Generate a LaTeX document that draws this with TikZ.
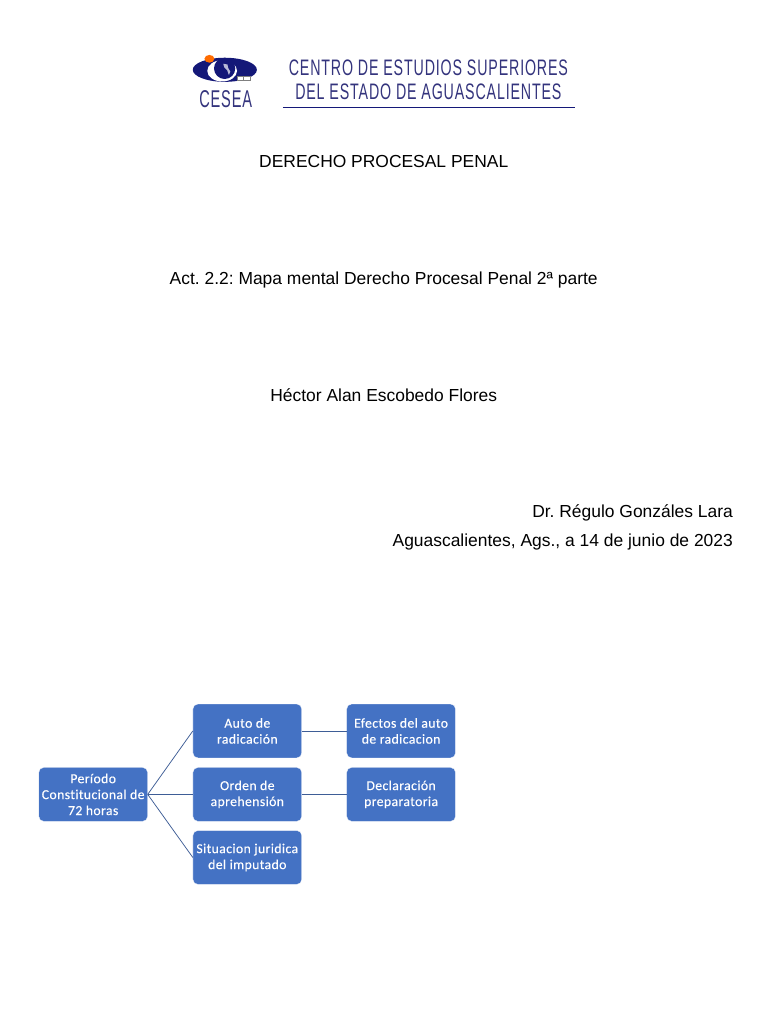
\documentclass[tikz,border=0pt]{standalone}
\usepackage{fontspec}
\setmainfont{Liberation Sans}
\newfontfamily\boxfont[LetterSpace=3,Ligatures=NoCommon,FakeBold=0.25]{Carlito}
\newfontfamily\logofont[LetterSpace=6]{Liberation Sans}
\usetikzlibrary{positioning}
\definecolor{boxblue}{RGB}{68,114,196}
\definecolor{linkblue}{RGB}{62,93,150}
\definecolor{logonavy}{RGB}{20,24,120}
\definecolor{logotext}{RGB}{52,52,125}
\tikzset{
  mapbox/.style={rectangle,rounded corners=0.14cm,fill=boxblue,draw=white,very thin,text=white,minimum width=3.07cm,minimum height=1.52cm,align=center,inner sep=0pt,font=\boxfont\fontsize{11}{12.8}\selectfont},
  maplink/.style={linkblue,line width=0.6pt},
  pagetext/.style={font=\frenchspacing\fontsize{14}{17}\selectfont,text=black,inner sep=0pt},
  logotitle/.style={font=\logofont\fontsize{18}{20}\selectfont,text=logotext,xscale=0.635,inner sep=0pt}
}

\begin{document}
\begin{tikzpicture}
\draw[draw=none,fill=white] (0,0) rectangle (21.67,28.9);
\useasboundingbox (0,0) rectangle (21.67,28.9);

% logo
\draw[draw=none,fill=logonavy] (6.345,26.93) ellipse (0.905 and 0.34);
\draw[draw=none,fill=white] (6.27,26.9) ellipse (0.42 and 0.3);
\draw[draw=none,fill=logonavy] (6.34,26.97) circle (0.3);
\draw[draw=none,fill=white!70!logonavy] (6.3,27.1) -- (6.42,27.08) -- (6.44,26.98) -- (6.5,26.88) -- (6.46,26.78) -- (6.41,26.92) -- (6.33,27) -- cycle;
\draw[draw=none,fill=orange!85!red] (5.91,27.24) ellipse (0.14 and 0.11);
\draw[gray,very thin,fill=white] (6.68,26.64) rectangle (6.87,26.76);
\draw[gray,very thin,fill=white] (6.87,26.64) rectangle (7.06,26.76);
\node[font=\logofont\fontsize{19.5}{21}\selectfont,text=logotext,xscale=0.6,inner sep=0pt] (cesea) at (6.37,26.09) {CESEA};
\node[logotitle] (titletop) at (12.09,26.98) {CENTRO DE ESTUDIOS SUPERIORES};
\node[logotitle] (titlebottom) at (12.09,26.3) {DEL ESTADO DE AGUASCALIENTES};
\draw[logonavy,line width=0.8pt] (7.98,25.87) -- (16.22,25.87);

% page text
\node[pagetext] (subject) at (10.83,24.34) {DERECHO PROCESAL PENAL};
\node[pagetext] (activity) at (10.83,21.01) {Act. 2.2: Mapa mental Derecho Procesal Penal 2ª parte};
\node[pagetext] (student) at (10.83,17.74) {Héctor Alan Escobedo Flores};
\node[pagetext,anchor=east] (teacher) at (20.69,14.42) {Dr. Régulo Gonzáles Lara};
\node[pagetext,anchor=east] (place) at (20.69,13.6) {Aguascalientes, Ags., a 14 de junio de 2023};

% mind map
\node[mapbox] (periodo) at (2.63,6.48) {Período\\Constitucional de\\72 horas};
\node[mapbox] (auto) at (6.98,8.27) {Auto de\\radicación};
\node[mapbox] (orden) at (6.98,6.48) {Orden de\\aprehensión};
\node[mapbox] (situacion) at (6.98,4.70) {Situacion juridica\\del imputado};
\node[mapbox] (efectos) at (11.32,8.27) {Efectos del auto\\de radicacion};
\node[mapbox] (declaracion) at (11.32,6.48) {Declaración\\preparatoria};

\draw[maplink] (periodo.east) -- (auto.west);
\draw[maplink] (periodo.east) -- (orden.west);
\draw[maplink] (periodo.east) -- (situacion.west);
\draw[maplink] (auto.east) -- (efectos.west);
\draw[maplink] (orden.east) -- (declaracion.west);

\end{tikzpicture}
\end{document}
